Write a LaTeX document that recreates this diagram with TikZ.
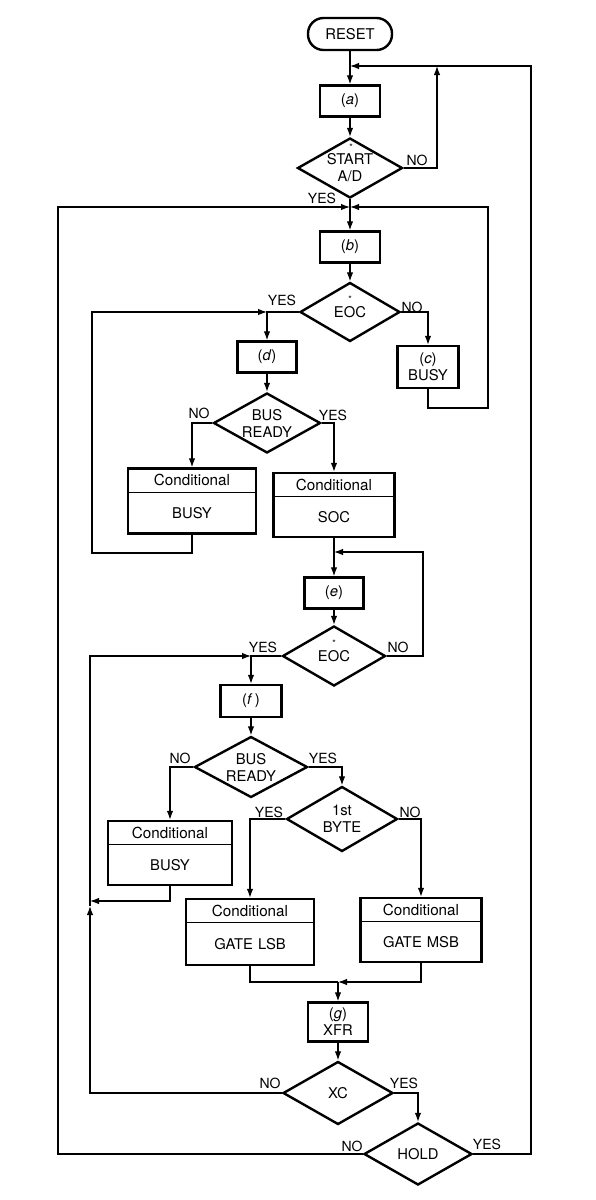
\documentclass[tikz,border=0pt]{standalone}
\usepackage{fontspec}
\setmainfont{TeX Gyre Heros}
\usetikzlibrary{shapes.geometric,arrows.meta,calc}
\tikzset{
  box/.style={draw, line width=2.4pt, minimum width=60, minimum height=31, inner sep=1pt, align=center},
  term/.style={draw, line width=2.4pt, rounded corners=15.5, minimum width=84, minimum height=32, inner sep=1pt},
  dia/.style={draw, diamond, line width=2.4pt, inner sep=0pt, align=center},
  cbx/.style={draw, line width=2.4pt, inner sep=0pt},
  ln/.style={line width=1.2pt},
  arr/.style={line width=1.2pt, -{Latex[length=9pt,width=6.5pt]}},
  lbl/.style={font=\fontsize{14}{15}\selectfont, inner sep=0pt},
  star/.style={font=\fontsize{9}{9}\selectfont, inner sep=0pt},
}
\newcommand\condbox[6]{%
  \node[cbx, minimum width=#4, minimum height=#5] (#1) at (#2,#3) {};
  \draw[line width=1.3pt] ($(#1.north west)+(0,25)$) -- ($(#1.north east)+(0,25)$);
  \node[inner sep=0pt, font=\fontsize{15.2}{17}\selectfont] (#1t) at ($(#1.north)+(0,13)$) {Conditional};
  \node[inner sep=0pt] (#1b) at ($(#1.center)+(0,12.5)$) {#6};
}
\begin{document}
\begin{tikzpicture}[x=1pt,y=-1pt, font=\fontsize{14.8}{17}\selectfont]
\useasboundingbox (0,0) rectangle (595,1200);
\fill[white] (0,0) rectangle (595,1200);

% nodes
\node[term] (reset) at (350,34) {RESET};
\node[box] (a) at (350,101) {(\textit{a})};
\node[dia, minimum width=105, minimum height=60, aspect=1.75] (sad) at (350,168) {START\\A/D};
\node[box] (b) at (350,247) {(\textit{b})};
\node[dia, minimum width=100, minimum height=59, aspect=1.7] (eoc1) at (350,312) {EOC};
\node[box, minimum width=59] (d) at (267,357) {(\textit{d})};
\node[box, minimum width=61, minimum height=42] (c) at (428,367) {(\textit{c})\\BUSY};
\node[dia, minimum width=107, minimum height=60, aspect=1.8] (br1) at (267,423) {BUS\\READY};
\condbox{cb1}{192}{501}{128}{65}{BUSY}
\condbox{soc}{334}{505}{121}{64}{SOC}
\node[box, minimum width=59] (e) at (334,593) {(\textit{e})};
\node[dia, minimum width=103, minimum height=60, aspect=1.7] (eoc2) at (334,656) {EOC};
\node[box, minimum width=61, minimum height=32] (f) at (251,701) {(\textit{f}\,)};
\node[dia, minimum width=113, minimum height=61, aspect=1.85] (br2) at (251,767) {BUS\\READY};
\condbox{cb2}{170}{853}{124}{64}{BUSY}
\node[dia, minimum width=111, minimum height=65, aspect=1.7] (fb) at (342,819) {1st\\BYTE};
\condbox{lsb}{250}{932}{128}{66}{GATE\hspace{5pt}LSB}
\condbox{msb}{421}{930}{121}{64}{GATE\hspace{5pt}MSB}
\node[box, minimum width=60, minimum height=39] (g) at (338,1022) {(\textit{g})\\XFR};
\node[dia, minimum width=110, minimum height=63, aspect=1.75] (xc) at (338,1093) {XC};
\node[dia, minimum width=108, minimum height=62, aspect=1.75] (hold) at (418,1154) {HOLD};

% stars
\node[star] (s1) at (351,147) {*};
\node[star] (s2) at (350,299) {*};
\node[star] (s3) at (334,643) {*};

% junction coordinates
\coordinate (j1) at (350,66);
\coordinate (rt) at (531,66);
\coordinate (nt) at (437,66);
\coordinate (j2) at (350,207);
\coordinate (lt) at (58,207);
\coordinate (r1b) at (488,408);
\coordinate (j3) at (267,312);
\coordinate (l1b) at (92,553);
\coordinate (j4) at (334,552);
\coordinate (r2) at (423,552);
\coordinate (j5) at (251,656);
\coordinate (j6) at (90,901);
\coordinate (j7) at (90,906);
\coordinate (j8) at (338,982);

% connectors
\draw[arr] (reset.south) -- (a.north);
\draw[arr] (hold.east) -| (rt) -- (j1);
\draw[arr] (a.south) -- (sad.north);
\draw[arr] (sad.east) -| (nt);
\draw[arr] (sad.south) -- (b.north);
\draw[arr] (hold.west) -| (lt) -- (j2);
\draw[arr] (c.south) |- (r1b) |- (j2);
\draw[arr] (b.south) -- (eoc1.north);
\draw[arr] (eoc1.west) -| (d.north);
\draw[arr] (eoc1.east) -| (c.north);
\draw[arr] (cb1.south) |- (l1b) |- (j3);
\draw[arr] (d.south) -- (br1.north);
\draw[arr] (br1.west) -| (cb1.north);
\draw[arr] (br1.east) -| (soc.north);
\draw[arr] (soc.south) -- (e.north);
\draw[arr] (e.south) -- (eoc2.north);
\draw[arr] (eoc2.east) -| (r2) -- (j4);
\draw[arr] (eoc2.west) -| (f.north);
\draw[arr] (f.south) -- (br2.north);
\draw[arr] (br2.west) -| (cb2.north);
\draw[arr] (br2.east) -| (fb.north);
\draw[arr] (fb.west) -| (lsb.north);
\draw[arr] (fb.east) -| (msb.north);
\draw[arr] (cb2.south) |- (j6);
\draw[arr] (xc.west) -| (j7);
\draw[arr] (j7) |- (j5);
\draw[ln] (lsb.south) |- (j8);
\draw[arr] (msb.south) |- (j8);
\draw[arr] (j8) -- (g.north);
\draw[arr] (g.south) -- (xc.north);
\draw[arr] (xc.east) -| (hold.north);

% labels
\node[lbl] at (417,160) {NO};
\node[lbl] at (322,198) {YES};
\node[lbl] at (282,300) {YES};
\node[lbl] at (412,307) {NO};
\node[lbl] at (199,413) {NO};
\node[lbl] at (333,415) {YES};
\node[lbl] at (263,647) {YES};
\node[lbl] at (398,647) {NO};
\node[lbl] at (180,758) {NO};
\node[lbl] at (323,758) {YES};
\node[lbl] at (269,812) {YES};
\node[lbl] at (410,812) {NO};
\node[lbl] at (270,1083) {NO};
\node[lbl] at (404,1083) {YES};
\node[lbl] at (352,1146) {NO};
\node[lbl] at (487,1144) {YES};
\end{tikzpicture}
\end{document}
